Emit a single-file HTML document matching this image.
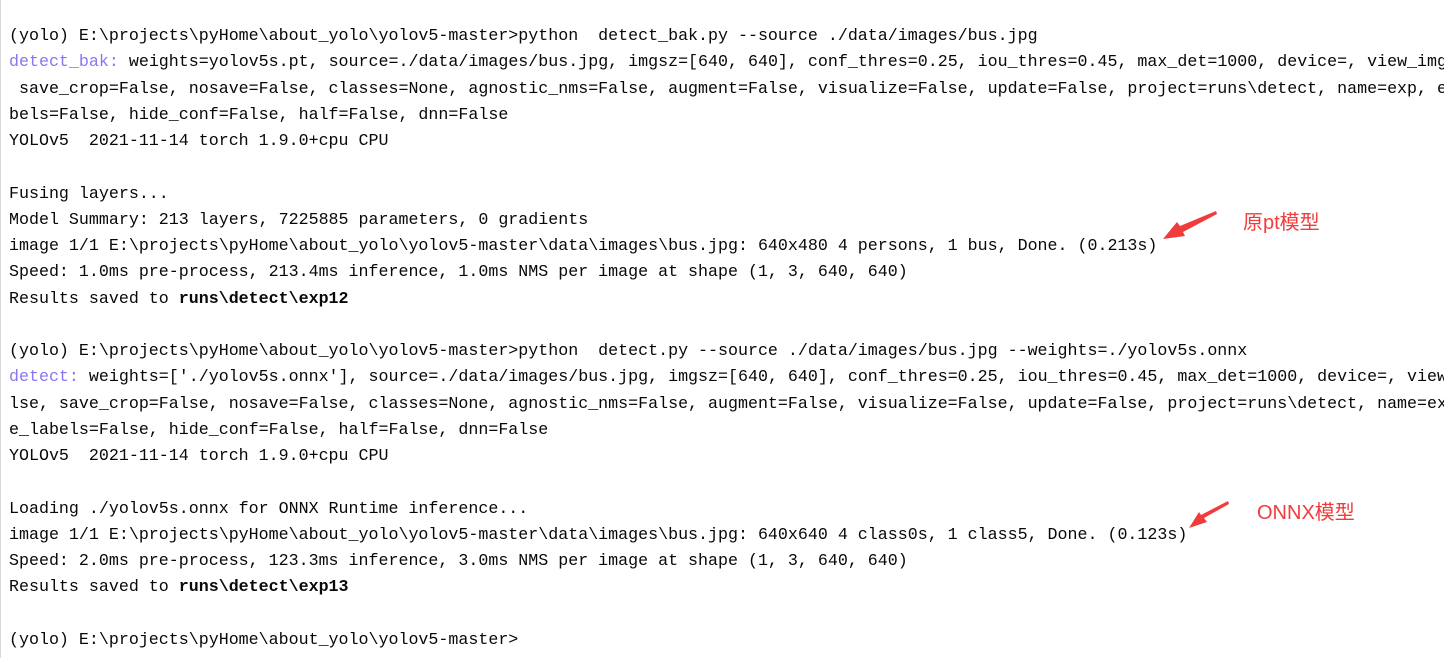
<!DOCTYPE html>
<html><head><meta charset="utf-8"><style>
html,body{margin:0;padding:0;background:#fff;width:1444px;height:658px;overflow:hidden;position:relative}
pre{position:absolute;left:9px;top:23px;width:1435px;overflow:hidden;margin:0;font-family:"Liberation Mono",monospace;font-size:16.65px;line-height:26.25px;color:#080808;white-space:pre}
.p{color:#8877ee}
b{font-weight:bold}
.lbl{position:absolute;font-family:"Liberation Sans","Noto Sans CJK SC",sans-serif;font-size:20px;color:#f03c3c}
.edge{position:absolute;left:0;top:0;width:1px;height:658px;background:#d8d8d8}
</style></head><body>
<div class="edge"></div>
<pre>(yolo) E:\projects\pyHome\about_yolo\yolov5-master>python  detect_bak.py --source ./data/images/bus.jpg
<span class="p">detect_bak:</span> weights=yolov5s.pt, source=./data/images/bus.jpg, imgsz=[640, 640], conf_thres=0.25, iou_thres=0.45, max_det=1000, device=, view_img=False,
 save_crop=False, nosave=False, classes=None, agnostic_nms=False, augment=False, visualize=False, update=False, project=runs\detect, name=exp, exist_ok=False
bels=False, hide_conf=False, half=False, dnn=False
YOLOv5  2021-11-14 torch 1.9.0+cpu CPU

Fusing layers...
Model Summary: 213 layers, 7225885 parameters, 0 gradients
image 1/1 E:\projects\pyHome\about_yolo\yolov5-master\data\images\bus.jpg: 640x480 4 persons, 1 bus, Done. (0.213s)
Speed: 1.0ms pre-process, 213.4ms inference, 1.0ms NMS per image at shape (1, 3, 640, 640)
Results saved to <b>runs\detect\exp12</b>

(yolo) E:\projects\pyHome\about_yolo\yolov5-master>python  detect.py --source ./data/images/bus.jpg --weights=./yolov5s.onnx
<span class="p">detect:</span> weights=['./yolov5s.onnx'], source=./data/images/bus.jpg, imgsz=[640, 640], conf_thres=0.25, iou_thres=0.45, max_det=1000, device=, view_img=Fa
lse, save_crop=False, nosave=False, classes=None, agnostic_nms=False, augment=False, visualize=False, update=False, project=runs\detect, name=exp, exist_ok
e_labels=False, hide_conf=False, half=False, dnn=False
YOLOv5  2021-11-14 torch 1.9.0+cpu CPU

Loading ./yolov5s.onnx for ONNX Runtime inference...
image 1/1 E:\projects\pyHome\about_yolo\yolov5-master\data\images\bus.jpg: 640x640 4 class0s, 1 class5, Done. (0.123s)
Speed: 2.0ms pre-process, 123.3ms inference, 3.0ms NMS per image at shape (1, 3, 640, 640)
Results saved to <b>runs\detect\exp13</b>

(yolo) E:\projects\pyHome\about_yolo\yolov5-master></pre>
<svg width="1444" height="658" style="position:absolute;left:0;top:0">
<polygon points="1216,211 1217,214 1183,232 1185,236 1163,239 1177,222 1180,226" fill="#f03c3c"/>
<polygon points="1228,501 1229,504 1204,518 1207,522 1189,528 1199,512 1201,515" fill="#f03c3c"/>
</svg>
<div class="lbl" style="left:1243px;top:206px">原pt模型</div>
<div class="lbl" style="left:1257px;top:496px">ONNX模型</div>
</body></html>
